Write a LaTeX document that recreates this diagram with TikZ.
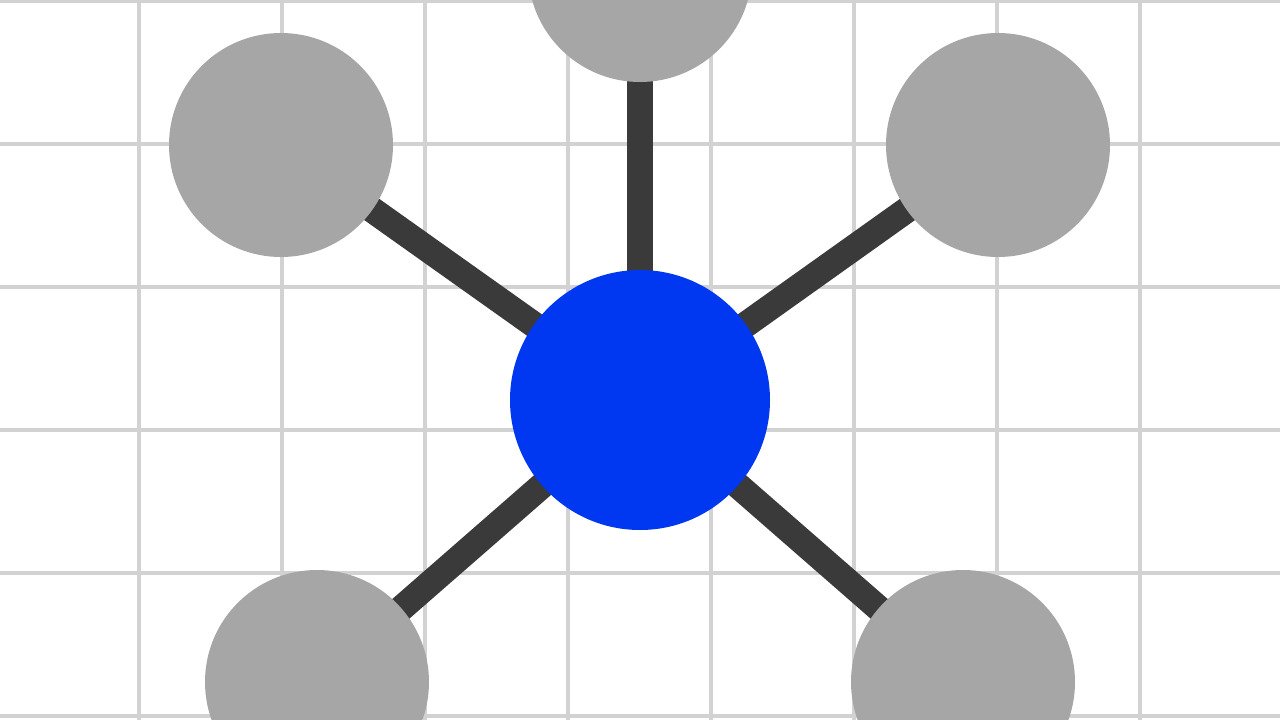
\documentclass[tikz,border=0pt]{standalone}
\usetikzlibrary{backgrounds}
\definecolor{hubblue}{RGB}{0,55,240}
\definecolor{leafgray}{RGB}{166,166,166}
\definecolor{edgegray}{RGB}{58,58,58}
\definecolor{gridgray}{RGB}{210,210,210}
\pgfdeclarelayer{gridlayer}
\pgfsetlayers{gridlayer,background,main}
\tikzset{
  hub/.style={circle,fill=hubblue,draw=none,minimum size=260pt,inner sep=0pt},
  leaf/.style={circle,fill=leafgray,draw=none,minimum size=224pt,inner sep=0pt},
  link/.style={draw=edgegray,line width=26pt},
  gridline/.style={draw=gridgray,line width=4pt}
}
\begin{document}
\begin{tikzpicture}[x=1pt,y=-1pt]
\useasboundingbox (0,0) rectangle (1280,720);
\begin{pgfonlayer}{gridlayer}
\fill[white] (0,0) rectangle (1280,720);
\foreach \gx in {139,282,425,568,711,854,997,1140}
  \draw[gridline] (\gx,0) -- (\gx,720);
\foreach \gy in {1,144,287,430,573,716}
  \draw[gridline] (0,\gy) -- (1280,\gy);
\end{pgfonlayer}
\node[hub] (c) at (640,400) {};
\node[leaf] (t) at (640,-30) {};
\node[leaf] (tl) at (281,145) {};
\node[leaf] (tr) at (998,145) {};
\node[leaf] (bl) at (317,682) {};
\node[leaf] (br) at (963,682) {};
\begin{pgfonlayer}{background}
\foreach \n in {t,tl,tr,bl,br}
  \draw[link] (c.center) -- (\n.center);
\end{pgfonlayer}
\end{tikzpicture}
\end{document}
